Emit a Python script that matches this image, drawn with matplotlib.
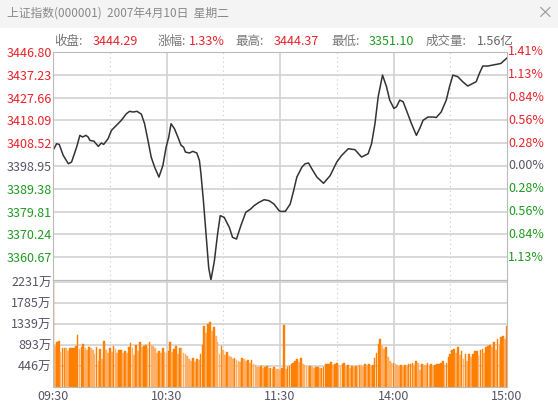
import matplotlib
matplotlib.use("Agg")
import matplotlib.pyplot as plt
import numpy as np

plt.rcParams['font.family'] = ['Noto Sans CJK SC', 'DejaVu Sans']

pre_close = 3398.95
price_ticks = [3446.80, 3437.23, 3427.66, 3418.09, 3408.52, 3398.95, 3389.38, 3379.81, 3370.24, 3360.67]
pct_labels = ["1.41%", "1.13%", "0.84%", "0.56%", "0.28%", "0.00%", "0.28%", "0.56%", "0.84%", "1.13%"]
vol_ticks = [2231, 1785, 1339, 893, 446]
time_labels = ["09:30", "10:30", "11:30", "14:00", "15:00"]
time_pos = [0, 60, 120, 180, 240]

price_min = [0, 1.9, 3.3, 5.4, 8.1, 9.8, 12.5, 14.2, 15.6, 17.4, 18.6, 19.5, 21.6, 23.9, 25.6, 26.8,
             29.1, 30.9, 33.5, 36.1, 38.8, 40.5, 42.3, 44.4, 46.7, 48.4, 50.2, 51.9, 53.7, 56, 58.1,
             59.8, 61.2, 62.4, 64.2, 66, 67.7, 69, 70, 72.1, 73.9, 76, 77.4, 78.2, 79.5, 80.9, 82.3,
             83.5, 85.3, 87, 88.4, 90.5, 93.2, 94.9, 97, 99.3, 101.9, 104.5, 106.3, 108.9, 111.6,
             114.2, 116.8, 119.5,
             120.2, 122.8, 125.4, 127.2, 128.9, 131.6, 133.3, 135.1, 136.8, 139.5, 143, 146.5, 150,
             152.6, 156.1, 159.6, 163.1, 166.6, 168.4, 170.2, 171.9, 174.2, 176.3, 178, 180.2, 181.6,
             183.3, 185.1, 186.8, 189.5, 192.1, 194.2, 195.6, 198.2, 200.9, 202.6, 205.2, 207.9,
             209.6, 211.4, 214, 216.6, 219.3, 221.9, 223.7, 225.4, 227.2, 229.8, 232.4, 235.1,
             236.8, 240]
price_val = [3405.5, 3408.3, 3408.0, 3403.4, 3399.9, 3400.6, 3406.9, 3411.8, 3411.1, 3411.8, 3411.1,
             3409.7, 3409.4, 3407.2, 3408.6, 3408.0, 3410.4, 3413.9, 3416.0, 3418.1, 3420.9, 3421.9,
             3421.6, 3421.9, 3420.7, 3416.7, 3409.7, 3402.7, 3398.5, 3394.3, 3399.2, 3406.9, 3411.1,
             3416.7, 3414.6, 3411.1, 3407.6, 3406.9, 3404.8, 3404.4, 3405.1, 3404.4, 3401.3, 3395.7,
             3384.4, 3370.4, 3356.3, 3351.1, 3359.1, 3370.4, 3378.1, 3377.4, 3373.2, 3369.0, 3368.3,
             3373.9, 3379.5, 3380.9, 3382.3, 3383.7, 3384.8, 3384.4, 3383.0, 3380.2,
             3379.9, 3379.9, 3383.0, 3388.6, 3394.3, 3398.5, 3399.9, 3400.2, 3397.8, 3394.3, 3391.7,
             3394.9, 3400.6, 3403.4, 3406.2, 3405.8, 3402.7, 3404.1, 3408.3, 3416.7, 3428.0, 3437.1,
             3432.2, 3426.6, 3423.1, 3423.8, 3426.6, 3425.9, 3422.4, 3416.7, 3411.8, 3415.3, 3418.1,
             3419.5, 3419.5, 3419.3, 3421.6, 3426.6, 3432.2, 3437.1, 3436.4, 3434.3, 3432.5, 3433.6,
             3434.3, 3437.8, 3440.9, 3440.9, 3441.3, 3441.7, 3442.0, 3444.29]

volume = [2231,
          880, 960, 980, 750, 840, 840, 820, 760, 820, 830,
          840, 880, 1110, 800, 850, 910, 830, 780, 860, 820,
          780, 700, 850, 560, 810, 600, 980, 780, 720, 820,
          750, 880, 800, 720, 780, 780, 720, 760, 720, 850,
          930, 840, 690, 900, 760, 960, 860, 880, 900, 830,
          950, 900, 880, 830, 730, 760, 720, 820, 750, 720,
          760, 960, 740, 810, 870, 700, 830, 820, 720, 700,
          650, 590, 560, 620, 540, 600, 570, 700, 890, 1290,
          1150, 1340, 1380, 1200, 1280, 1090, 960, 700, 870, 780,
          690, 740, 660, 640, 600, 620, 580, 560, 540, 620,
          600, 560, 570, 520, 580, 500, 460, 430, 420, 440,
          400, 420, 440, 400, 410, 380, 420, 390, 380, 360,
          400, 1320, 380, 420, 440, 480, 520, 560, 600, 540,
          620, 500, 460, 440, 420, 450, 430, 400, 420, 420,
          400, 410, 420, 480, 500, 500, 540, 460, 500, 510,
          470, 440, 480, 520, 450, 460, 400, 450, 420, 450,
          440, 470, 460, 420, 500, 460, 480, 450, 460, 620,
          720, 920, 1020, 880, 800, 860, 640, 560, 520, 520,
          480, 460, 450, 470, 420, 460, 440, 480, 500, 520,
          470, 560, 520, 360, 500, 470, 460, 520, 450, 480,
          440, 470, 480, 480, 520, 560, 470, 520, 640, 700,
          780, 800, 720, 860, 680, 760, 600, 700, 560, 700,
          640, 700, 760, 760, 660, 780, 800, 720, 860, 880,
          900, 860, 960, 780, 1020, 900, 1060, 1080, 1020, 1300]

RED = '#e8222a'
GREEN = '#1f9a1f'
GRAY = '#555566'
GRID = '#d2d2d2'
FS = 9

fig = plt.figure(figsize=(5.58, 4.07), dpi=100)
fig.patch.set_facecolor('white')
fig.patches.append(plt.Rectangle((0, 0.93), 1, 0.07, transform=fig.transFigure,
                                 facecolor='#f4f4f4', edgecolor='none', zorder=0))
fig.text(0.012, 0.968, "上证指数(000001)  2007年4月10日  星期二", fontsize=8.5, color='#888888', va='center')
fig.text(0.975, 0.968, "×", fontsize=12, color='#999999', va='center', ha='center')

info = [("收盘:", 0.098, '#777777'), ("3444.29", 0.166, RED), ("涨幅:", 0.283, '#777777'),
        ("1.33%", 0.338, RED), ("最高:", 0.422, '#777777'), ("3444.37", 0.49, RED),
        ("最低:", 0.594, '#777777'), ("3351.10", 0.66, GREEN), ("成交量:", 0.762, '#777777'),
        ("1.56亿", 0.855, '#666666')]
for t, x, c in info:
    fig.text(x, 0.898, t, fontsize=FS, color=c, va='center')

L, W = 0.095, 0.8136
ax = fig.add_axes([L, 0.312, W, 0.5603])
axv = fig.add_axes([L, 0.049, W, 0.263])

for a in (ax, axv):
    a.set_xlim(0, 240)
    for s in a.spines.values():
        s.set_color('#bbbbbb')
    a.tick_params(length=0)
    for xm in (60, 120, 180):
        a.axvline(xm, color=GRID, lw=1.2, zorder=0)
    for xm in (30, 90, 150, 210):
        a.axvline(xm, color='#c8c8c8', lw=0.8, ls=(0, (1, 3)), zorder=0)

ax.set_ylim(3351.10, 3446.80)
for p in price_ticks:
    ax.axhline(p, color=GRID, lw=1.2, zorder=0)
ax.set_yticks(price_ticks)
ax.set_yticklabels([f"{p:.2f}" for p in price_ticks], fontsize=FS)
for lbl, p in zip(ax.get_yticklabels(), price_ticks):
    lbl.set_color(RED if p > pre_close + 0.01 else (GRAY if abs(p - pre_close) < 0.01 else GREEN))
ax.tick_params(axis='y', pad=1)
ax.set_xticks([])
for p, lab in zip(price_ticks, pct_labels):
    c = RED if p > pre_close + 0.01 else (GRAY if abs(p - pre_close) < 0.01 else GREEN)
    ax.text(1.003, p, lab, transform=ax.get_yaxis_transform(), fontsize=FS, color=c,
            va='center', ha='left')
ax.plot(price_min, price_val, color='#333333', lw=1.1)

vol_x = np.arange(len(volume))
cols = ['#ff8000' if i == 0 or volume[i] >= volume[i - 1] else '#ffb066' for i in range(len(volume))]
axv.bar(vol_x, volume, width=0.9, color=cols, edgecolor=cols, linewidth=0.3, zorder=2)
axv.set_ylim(0, 2275)
for v in vol_ticks:
    axv.axhline(v, color=GRID, lw=1.2, zorder=1)
axv.set_yticks(vol_ticks)
axv.set_yticklabels([f"{v}万" for v in vol_ticks], fontsize=FS, color=GRAY)
axv.tick_params(axis='y', pad=1)
axv.set_xticks(time_pos)
axv.set_xticklabels(time_labels, fontsize=FS, color=GRAY)
axv.tick_params(axis='x', pad=2)

fig.savefig("out.png", dpi=100)
